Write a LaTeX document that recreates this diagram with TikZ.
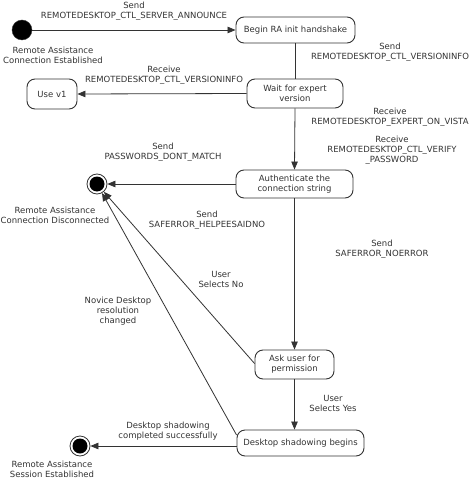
\documentclass[tikz,border=0pt]{standalone}
\usepackage{fontspec}
\setmainfont{DejaVu Sans}
\usetikzlibrary{arrows.meta}
\definecolor{ink}{HTML}{333333}
\tikzset{
  state/.style={draw=ink, line width=0.9pt, rounded corners=8pt, align=center, text=ink, inner sep=0pt, font=\fontsize{8.5}{10}\selectfont},
  lbl/.style={align=center, text=ink, inner sep=0pt, font=\fontsize{8.5}{10}\selectfont},
  conn/.style={draw=ink, line width=0.8pt},
  arr/.style={conn, -{Triangle[length=8pt,width=6.5pt]}},
  initial/.style={circle, fill=black, draw=ink, minimum size=20pt, inner sep=0pt},
  final/.style={circle, draw=ink, line width=0.8pt, minimum size=20pt, inner sep=0pt,
    path picture={\fill[black] (path picture bounding box.center) circle (7.5pt);}}
}
\begin{document}
\begin{tikzpicture}[x=1pt,y=-1pt]
\useasboundingbox[fill=white] (0,0) rectangle (474,481);
% states
\node[initial] (start) at (22,30) {};
\node[final] (disc) at (97,184) {};
\node[final] (sess) at (80,446) {};
\node[state, minimum width=119pt, minimum height=26pt] (begin) at (295.5,30) {Begin RA init handshake};
\node[state, minimum width=96pt, minimum height=29pt] (wait) at (295,93.5) {Wait for expert\\version};
\node[state, minimum width=50pt, minimum height=30pt] (usev) at (52,94) {Use v1};
\node[state, minimum width=117pt, minimum height=28pt] (auth) at (294.5,184) {Authenticate the\\connection string};
\node[state, minimum width=79pt, minimum height=29pt] (ask) at (294.5,364.5) {Ask user for\\permission};
\node[state, minimum width=127pt, minimum height=26pt] (desk) at (300.5,443) {Desktop shadowing begins};
% connectors
\draw[arr] (start) -- (begin.west);
\draw[conn] (begin.south) -- (begin.south |- wait.north);
\draw[arr] (wait.west) -- (usev.east);
\draw[arr] (wait.south) -- (auth.north);
\draw[arr] (auth.west) -- (disc);
\draw[arr] (auth.south) -- (ask.north);
\draw[arr] ([yshift=1pt]ask.west) -- (disc);
\draw[arr] ([yshift=8pt]desk.west) -- (disc);
\draw[arr] (ask.south) -- (ask.south |- desk.north);
\draw[arr] ([yshift=-3pt]desk.west) -- (sess);
% labels
\node[lbl] (l1) at (53,55) {Remote Assistance\\Connection Established};
\node[lbl] (l2) at (55,215) {Remote Assistance\\Connection Disconnected};
\node[lbl] (l3) at (52,469) {Remote Assistance\\Session Established};
\node[lbl] (t1) at (134,11.5) {Send\\REMOTEDESKTOP\_CTL\_SERVER\_ANNOUNCE};
\node[lbl] (t2) at (390,52) {Send\\REMOTEDESKTOP\_CTL\_VERSIONINFO};
\node[lbl] (t3) at (164,75) {Receive\\REMOTEDESKTOP\_CTL\_VERSIONINFO};
\node[lbl] (t4) at (390,117.5) {Receive\\REMOTEDESKTOP\_EXPERT\_ON\_VISTA};
\node[lbl] (t5) at (392,150) {Receive\\REMOTEDESKTOP\_CTL\_VERIFY\\\_PASSWORD};
\node[lbl] (t6) at (163,152) {Send\\PASSWORDS\_DONT\_MATCH};
\node[lbl] (t7) at (207,220) {Send\\SAFERROR\_HELPEESAIDNO};
\node[lbl] (t8) at (382,249) {Send\\SAFERROR\_NOERROR};
\node[lbl] (t9) at (221,279) {User\\Selects No};
\node[lbl] (t10) at (118,311) {Novice Desktop\\resolution\\changed};
\node[lbl] (t11) at (333,403.5) {User\\Selects Yes};
\node[lbl] (t12) at (168,431) {Desktop shadowing\\completed successfully};
\end{tikzpicture}
\end{document}
